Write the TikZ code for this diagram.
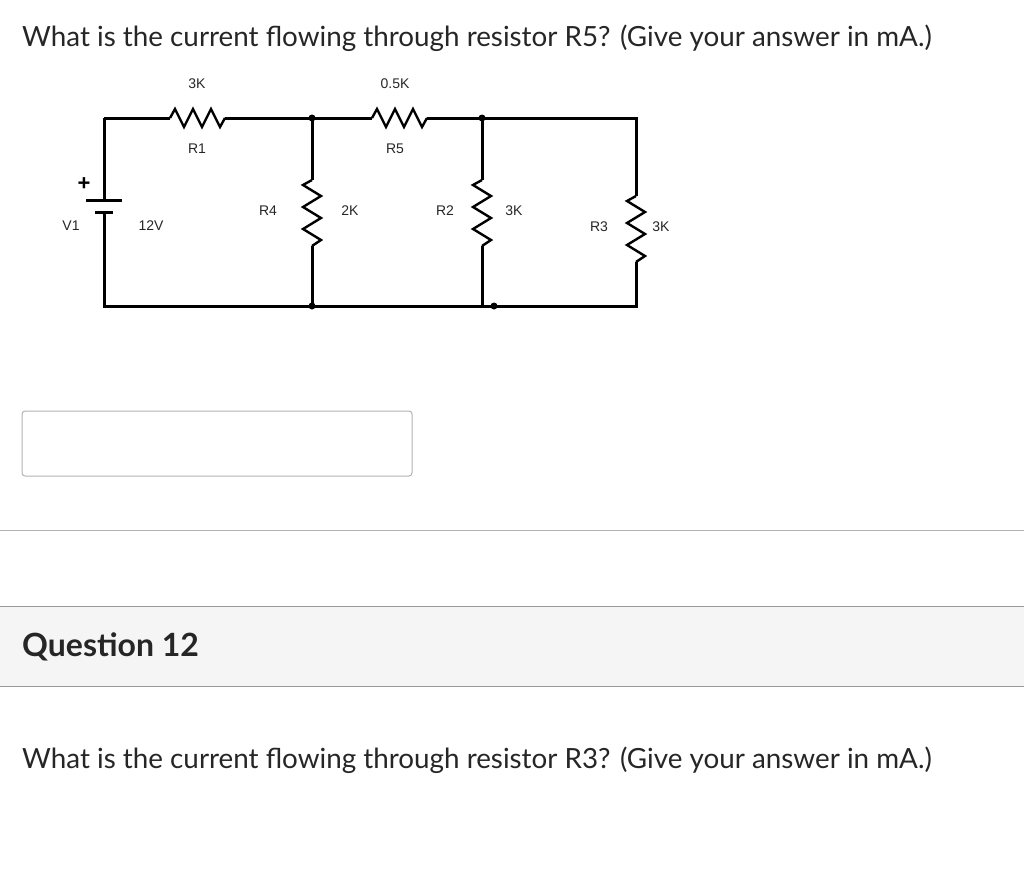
\documentclass[tikz,border=0pt]{standalone}
\usepackage{fontspec}
\setmainfont{Lato}
\newfontfamily\arialf{Liberation Sans}
\begin{document}
\begin{tikzpicture}[x=1pt,y=-1pt,
  wire/.style={line width=3pt,line join=miter},
  zz/.style={line width=2.4pt,line join=miter},
  lbl/.style={font=\arialf\fontsize{14}{15}\selectfont,inner sep=0pt,text=black!85},
  dot/.style={circle,fill,inner sep=0pt,minimum size=7pt},
  q/.style={anchor=west,inner sep=0pt,font=\fontsize{27.8}{32}\selectfont,text=black!85}]
\useasboundingbox (0,0) rectangle (1024,889);
\node[q] (t1) at (22,38) {What is the current flowing through resistor R5? (Give your answer in mA.)};
\coordinate (tl) at (104,118);
\coordinate (bl) at (104,306);
\coordinate (n1) at (312,118);
\coordinate (n2) at (482,118);
\coordinate (tr) at (636,118);
\coordinate (br) at (636,306);
\coordinate (b1) at (312,306);
\coordinate (b2) at (482,306);
\draw[wire] (tl) -- (170,118);
\draw[zz] (170,118) -- ++(5,-9) -- ++(9,18) -- ++(9,-18) -- ++(9,18) -- ++(9,-18) -- ++(9,18) -- ++(5,-9);
\draw[wire] (225,118) -- (n1) -- (372,118);
\draw[zz] (372,118) -- ++(5,-9) -- ++(9,18) -- ++(9,-18) -- ++(9,18) -- ++(9,-18) -- ++(9,18) -- ++(5,-9);
\draw[wire] (427,118) -- (n2) -- (tr) -- (636,196);
\draw[zz] (636,196) -- ++(-9,5) -- ++(18,11) -- ++(-18,11) -- ++(18,11) -- ++(-18,11) -- ++(18,11) -- ++(-9,6);
\draw[wire] (636,262) -- (br) -- (bl) -- (104,212);
\draw[wire] (tl) -- (104,200);
\draw[line width=3pt] (86,200) -- (122,200);
\draw[line width=3pt] (95,212) -- (113,212);
\draw[wire] (n1) -- (312,180);
\draw[zz] (312,180) -- ++(-9,5) -- ++(18,11) -- ++(-18,11) -- ++(18,11) -- ++(-18,11) -- ++(18,11) -- ++(-9,6);
\draw[wire] (312,246) -- (b1);
\draw[wire] (n2) -- (482,180);
\draw[zz] (482,180) -- ++(-9,5) -- ++(18,11) -- ++(-18,11) -- ++(18,11) -- ++(-18,11) -- ++(18,11) -- ++(-9,6);
\draw[wire] (482,246) -- (b2);
\node[dot] (d1) at (n1) {};
\node[dot] (d2) at (n2) {};
\node[dot] (d3) at (b1) {};
\node[dot] (d4) at (494,306) {};
\node[lbl] (l1) at (197,84) {3K};
\node[lbl] (l2) at (197,149) {R1};
\node[lbl] (l3) at (395,84) {0.5K};
\node[lbl] (l4) at (395,149) {R5};
\node[font=\arialf\bfseries\fontsize{22}{22}\selectfont,inner sep=0pt] (pl) at (84,184) {+};
\node[lbl] (l5) at (71,226) {V1};
\node[lbl] (l6) at (151,226) {12V};
\node[lbl] (l7) at (268,211) {R4};
\node[lbl] (l8) at (350,211) {2K};
\node[lbl] (l9) at (445,211) {R2};
\node[lbl] (l10) at (514,211) {3K};
\node[lbl] (l11) at (599,227) {R3};
\node[lbl] (l12) at (661,227) {3K};
\draw[black!30,line width=1pt,rounded corners=3pt] (22,411) rectangle (412,476);
\draw[black!30,line width=1pt] (0,530) -- (1024,530);
\fill[black!4] (0,606) rectangle (1024,686);
\draw[black!40,line width=1pt] (0,606) -- (1024,606) (0,686) -- (1024,686);
\node[q,font=\bfseries\fontsize{32}{36}\selectfont] (qh) at (22,647) {Question 12};
\node[q] (t2) at (22,760) {What is the current flowing through resistor R3? (Give your answer in mA.)};
\end{tikzpicture}
\end{document}
